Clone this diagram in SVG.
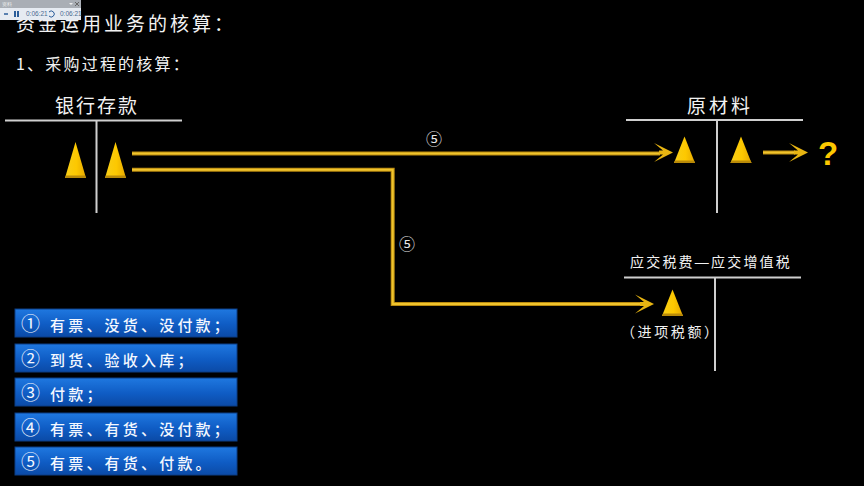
<svg xmlns="http://www.w3.org/2000/svg" width="864" height="486" viewBox="0 0 864 486">
<style>
text{font-family:"Noto Sans CJK SC","Liberation Sans",sans-serif;fill:#f2f2f2}
.h{font-size:19px;letter-spacing:3px}
.s{font-size:16px;letter-spacing:2.2px}
.t{font-size:14px;letter-spacing:2.4px}
.acc{font-size:19px;letter-spacing:2px}
.n{font-size:16px;fill:#e8e8e8;text-anchor:middle}
.rule{stroke:#cfcfcf;stroke-width:2;fill:none}
.ln2{stroke:#b98a10;stroke-width:4;fill:none}
.ln3{stroke:#f0c42c;stroke-width:2;fill:none}
.ah{fill:#e8b512}
.box{fill:url(#b);stroke:#0c3f86;stroke-width:1}
.bt{font-size:15px;letter-spacing:3.2px;fill:#f4f8ff;font-weight:500}
.bn{font-size:19px;fill:#f4f8ff}
.tb{font-size:6.500px;fill:#4a6a90;font-family:"Liberation Sans",sans-serif}
</style>
<defs>
<linearGradient id="b" x1="0" y1="0" x2="0" y2="1"><stop offset="0" stop-color="#1f78e0"/><stop offset=".55" stop-color="#0f5cc4"/><stop offset="1" stop-color="#0b4aa6"/></linearGradient>
<linearGradient id="tri" x1="0" y1="0" x2="1" y2="0"><stop offset="0" stop-color="#f8cf18"/><stop offset=".55" stop-color="#fdc800"/><stop offset="1" stop-color="#e6a800"/></linearGradient>
<g id="tr"><path d="M0-36 L10.500 0 H-10.500Z" fill="url(#tri)"/><path d="M-10.500 0 H10.500L9.500-2.500H-9.500Z" fill="#b98a08"/></g>
<g id="trs"><path d="M0-26.500 L10.500 0 H-10.500Z" fill="url(#tri)"/><path d="M-10.500 0 H10.500L9.500-2.500H-9.500Z" fill="#b98a08"/></g>
<path id="head" d="M-19-9.500 L0 0 L-19 9.500 L-10 2 H-14 V-2 H-10Z"/>
</defs>
<rect width="864" height="486" fill="#000"/>

<g id="title"><text class="h" x="16" y="31">资金运用业务的核算：</text>
<text class="s" x="16" y="70">1、采购过程的核算：</text></g>

<g id="toolbar"><rect x="0" y="0" width="81" height="20" fill="#e6ebf2"/><rect x="0" y="0" width="81" height="8" fill="#a9aeb5"/>
<text class="tb" x="2" y="6" style="fill:#eee;font-size:5px">资料</text>
<path d="M69 3l2 2l2-2z" fill="#eee"/><path d="M75 2l4 4m0-4l-4 4" stroke="#666" stroke-width="1"/>
<path d="M4 14h4" stroke="#2a5d9a" stroke-width="1.500"/><rect x="14" y="11" width="2" height="6" fill="#2a5d9a"/><rect x="17" y="11" width="2" height="6" fill="#2a5d9a"/>
<text class="tb" x="26" y="16">0:06:21</text><path d="M49 12a3 3 0 1 1 0 4" stroke="#2a5d9a" fill="none"/><text class="tb" x="60" y="16">0:06:21</text></g>

<g id="connectors">
<path class="ln2" d="M132 153.500H660"/><path class="ln3" d="M132 153.500H660"/>
<path class="ln2" d="M132 169.700H392.700V304H642"/><path class="ln3" d="M132 169.700H392.700V304H642"/>
<path class="ln2" d="M763 152.500H795"/><path class="ln3" d="M763 152.500H795"/>
<use class="ah" href="#head" x="673" y="152.500"/>
<use class="ah" href="#head" x="808" y="152.500"/>
<use class="ah" href="#head" x="654" y="304"/>
<text class="n" x="434" y="145">⑤</text>
<text class="n" x="407" y="250">⑤</text>
</g>

<g id="account-bank"><text class="acc" x="55" y="113">银行存款</text>
<path class="rule" d="M5 120.500H182M96.500 120.500V213"/>
<use href="#tr" x="75.500" y="178"/><use href="#tr" x="115.500" y="178"/></g>

<g id="account-material"><text class="acc" x="687" y="113" style="letter-spacing:3px">原材料</text>
<path class="rule" d="M626 120H803M717 120V213"/>
<use href="#trs" x="684.500" y="163"/><use href="#trs" x="741" y="163"/>
<text x="828" y="164.500" style="font-size:33px;font-weight:700;fill:#fdc800;text-anchor:middle;font-family:'Liberation Sans',sans-serif">?</text></g>

<g id="account-vat"><text class="t" x="630" y="267" style="letter-spacing:2.2px">应交税费<tspan style="font-family:'Liberation Sans',sans-serif">—</tspan>应交增值税</text>
<path class="rule" d="M624 277.500H801M715 277.500V371"/>
<use href="#trs" x="672.500" y="316"/>
<text class="t" x="621" y="337" style="letter-spacing:2.6px">（进项税额）</text></g>

<g id="item1"><rect class="box" x="15" y="309" width="222" height="28"/><text class="bn" x="21" y="331">①</text><text class="bt" x="50" y="331">有票、没货、没付款；</text></g>
<g id="item2"><rect class="box" x="15" y="344" width="222" height="28"/><text class="bn" x="21" y="366">②</text><text class="bt" x="50" y="366">到货、验收入库；</text></g>
<g id="item3"><rect class="box" x="15" y="378" width="222" height="28"/><text class="bn" x="21" y="400">③</text><text class="bt" x="50" y="400">付款；</text></g>
<g id="item4"><rect class="box" x="15" y="413" width="222" height="28"/><text class="bn" x="21" y="435">④</text><text class="bt" x="50" y="435">有票、有货、没付款；</text></g>
<g id="item5"><rect class="box" x="15" y="447" width="222" height="28"/><text class="bn" x="21" y="469">⑤</text><text class="bt" x="50" y="469">有票、有货、付款。</text></g>
</svg>
